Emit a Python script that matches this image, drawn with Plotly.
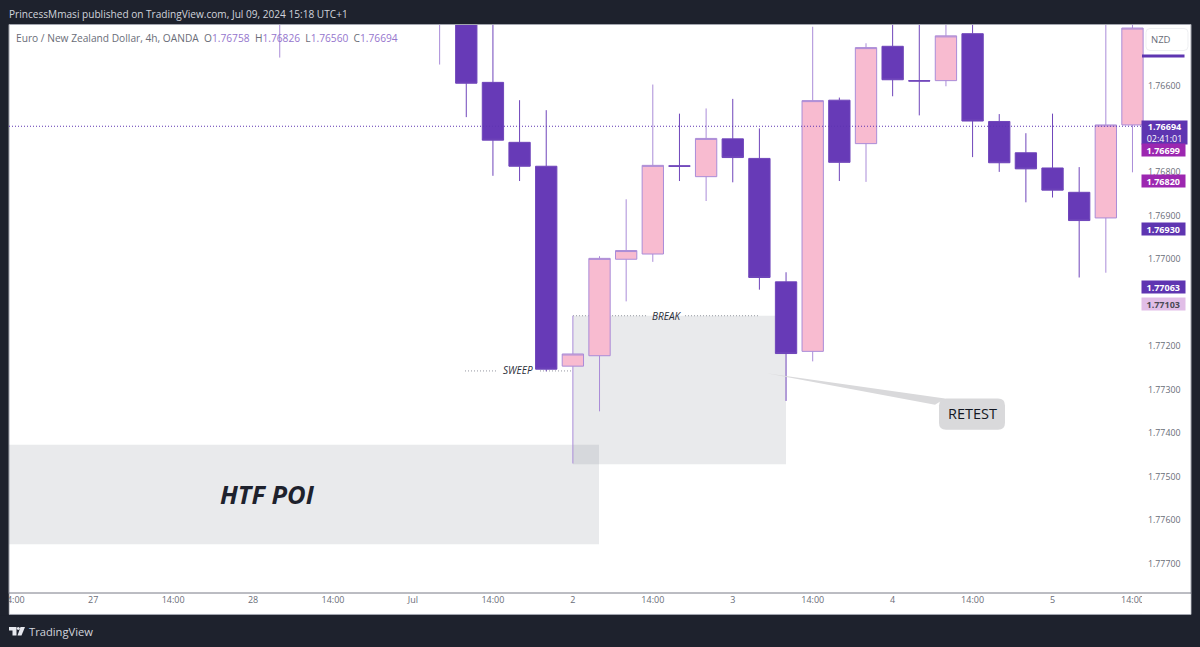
import plotly.graph_objects as go

# candle data (price axis is inverted on the chart)
candle_idx = [-5, 1, 2, 3, 4, 5, 6, 7, 8, 9, 10, 11, 12, 13, 14, 15, 16, 17, 18, 19, 20, 21, 22, 23, 24, 25, 26, 27]
opens = [1.7640, 1.7640, 1.7640, 1.76593, 1.76731, 1.76786, 1.77246, 1.77222, 1.77000, 1.76988, 1.76785,
         1.76810, 1.76723, 1.76768, 1.77052, 1.77212, 1.76634, 1.76734, 1.76510, 1.76589, 1.76589,
         1.76481, 1.76683, 1.76755, 1.76790, 1.76846, 1.76905, 1.76691]
highs = [1.76536, 1.76552, 1.76673, 1.76808, 1.76820, 1.77258, 1.77470, 1.77350, 1.77097, 1.77006, 1.76820,
         1.76866, 1.76823, 1.77070, 1.77326, 1.77235, 1.76820, 1.76822, 1.76625, 1.76669, 1.76602,
         1.76765, 1.76799, 1.76869, 1.76858, 1.77042, 1.77031, 1.76800]
lows = [1.7636, 1.7636, 1.7636, 1.7636, 1.76634, 1.76657, 1.77130, 1.76993, 1.76862, 1.76598, 1.76665,
        1.76653, 1.76631, 1.76699, 1.77030, 1.76465, 1.76628, 1.76503, 1.7636, 1.7636, 1.7636,
        1.7636, 1.76666, 1.76710, 1.76665, 1.76788, 1.7636, 1.7636]
closes = [1.7638, 1.7638, 1.76595, 1.76726, 1.76786, 1.77253, 1.77218, 1.76998, 1.76980, 1.76784, 1.76786,
          1.76722, 1.76766, 1.77042, 1.77217, 1.76635, 1.76777, 1.76513, 1.76587, 1.76590, 1.76486,
          1.76682, 1.76778, 1.76792, 1.76841, 1.76911, 1.76691, 1.76468]

x_tick_pos = [-15, -12, -9, -6, -3, 0, 3, 6, 9, 12, 15, 18, 21, 24, 27]
x_tick_text = ["14:00", "27", "14:00", "28", "14:00", "Jul", "14:00", "2", "14:00", "3", "14:00", "4", "14:00", "5", "14:00"]
y_ticks = [1.766, 1.768, 1.769, 1.770, 1.772, 1.773, 1.774, 1.775, 1.776, 1.777]

last_price = 1.76694
tag_values = [1.76699, 1.76820, 1.76930, 1.77063, 1.77103]
tag_shift = [-21.5, 0, 0, 0, 0]
tag_colors = ["#9C27B0", "#9C27B0", "#5E35B1", "#5E35B1", "#E1BEE7"]
tag_text_colors = ["#FFFFFF", "#FFFFFF", "#FFFFFF", "#FFFFFF", "#4A4A55"]

htf_prices = [1.77427, 1.77656]
retest_prices = [1.77130, 1.77472]
sweep_price = 1.77257
break_price = 1.77130

BG = "#1E222D"
FONT = "Open Sans"
TICK = "#6A6D78"
L, R, T, B = 9, 1145, 24.5, 593.5


def fx(px):
    return (px - L) / (R - L)


def fy(px):
    return 1 - (px - T) / (B - T)


def box(x0, y0, x1, y1, **kw):
    return dict(type="rect", xref="paper", yref="paper", x0=fx(x0), x1=fx(x1), y0=fy(y0), y1=fy(y1), **kw)


def poly(points, color):
    d = "M " + " L ".join(f"{fx(a):.5f} {fy(b):.5f}" for a, b in points) + " Z"
    return dict(type="path", xref="paper", yref="paper", path=d, fillcolor=color, line_width=0, layer="above")


def rounded(x0, y0, x1, y1, r, **kw):
    pts = [
        f"M {fx(x0 + r):.5f} {fy(y0):.5f}", f"L {fx(x1 - r):.5f} {fy(y0):.5f}",
        f"Q {fx(x1):.5f} {fy(y0):.5f} {fx(x1):.5f} {fy(y0 + r):.5f}", f"L {fx(x1):.5f} {fy(y1 - r):.5f}",
        f"Q {fx(x1):.5f} {fy(y1):.5f} {fx(x1 - r):.5f} {fy(y1):.5f}", f"L {fx(x0 + r):.5f} {fy(y1):.5f}",
        f"Q {fx(x0):.5f} {fy(y1):.5f} {fx(x0):.5f} {fy(y1 - r):.5f}", f"L {fx(x0):.5f} {fy(y0 + r):.5f}",
        f"Q {fx(x0):.5f} {fy(y0):.5f} {fx(x0 + r):.5f} {fy(y0):.5f} Z",
    ]
    return dict(type="path", xref="paper", yref="paper", path=" ".join(pts), layer="above", **kw)


def dotted(x0, x1, price):
    return dict(type="line", xref="paper", yref="y", x0=fx(x0), x1=fx(x1), y0=price, y1=price,
                line=dict(color="#9598A1", width=1, dash="1px,2px"), layer="below")


fig = go.Figure()
fig.add_trace(go.Candlestick(
    x=candle_idx, open=opens, high=highs, low=lows, close=closes,
    increasing=dict(fillcolor="#673AB7", line=dict(color="#6F45BA", width=1)),
    decreasing=dict(fillcolor="#F8BBD0", line=dict(color="#AA8CD8", width=1)),
    whiskerwidth=0, showlegend=False, hoverinfo="skip",
))

shapes = [
    # white chart panel
    box(L, 24, 1191, 615, fillcolor="#FFFFFF", line=dict(color="#A3A6AF", width=1), layer="below"),
    # zones
    dict(type="rect", xref="paper", yref="y", x0=0, x1=fx(599), y0=htf_prices[0], y1=htf_prices[1],
         fillcolor="rgba(120,123,134,0.16)", line_width=0, layer="below"),
    dict(type="rect", xref="paper", yref="y", x0=fx(573), x1=fx(786), y0=retest_prices[0], y1=retest_prices[1],
         fillcolor="rgba(120,123,134,0.16)", line_width=0, layer="below"),
    dotted(465, 498, sweep_price), dotted(540, 573, sweep_price),
    dotted(573, 648, break_price), dotted(685, 760, break_price),
    # last price line
    dict(type="line", xref="paper", yref="y", x0=0, x1=fx(1142), y0=last_price, y1=last_price,
         line=dict(color="#5E35B1", width=1, dash="1px,2px"), layer="above"),
    # retest callout
    poly([(766.5, 373.3), (945, 398.7), (935, 405)], "#D9D9DB"),
    rounded(939, 398.7, 1005, 430, 7, fillcolor="#D9D9DB", line_width=0),
    # clip the tick labels at the edges
    box(0, 594, L - 0.5, 616, fillcolor=BG, line_width=0, layer="above"),
    box(1142, 594.5, 1190.5, 614.5, fillcolor="#FFFFFF", line_width=0, layer="above"),
    # axis separator
    dict(type="line", xref="paper", yref="paper", x0=0, x1=fx(1191), y0=fy(593.5), y1=fy(593.5),
         line=dict(color="#787B86", width=1), layer="above"),
    # currency button and the tag hidden behind it
    box(1142, 54, 1184.5, 57, fillcolor="#5E35B1", line_width=0, layer="above"),
    rounded(1146, 28, 1188, 50, 4, fillcolor="#FFFFFF", line=dict(color="#EEEFF2", width=1)),
    # TradingView logo
    poly([(9, 627.5), (16.5, 627.5), (16.5, 636), (12.5, 636), (12.5, 631), (9, 631)], "#E6E8EE"),
    poly([(20.5, 627.5), (25, 627.5), (21.5, 636), (17.5, 636)], "#E6E8EE"),
    dict(type="circle", xref="paper", yref="paper", x0=fx(16.8), x1=fx(19.8), y0=fy(627.5), y1=fy(630.5),
         fillcolor="#E6E8EE", line_width=0, layer="above"),
]


def note(px, py, text, size, color, anchor="left", **kw):
    return dict(xref="paper", yref="paper", x=fx(px), y=fy(py), text=text, showarrow=False,
                xanchor=anchor, yanchor="middle", font=dict(family=FONT, size=size, color=color), **kw)


val = "#9575CD"
gap = "&nbsp;&nbsp;"
legend_text = (
    f"Euro / New Zealand Dollar, 4h, OANDA{gap}"
    f"O<span style='color:{val}'>1.76758</span>{gap}H<span style='color:{val}'>1.76826</span>{gap}"
    f"L<span style='color:{val}'>1.76560</span>{gap}C<span style='color:{val}'>1.76694</span>"
)

annotations = [
    note(7, 13, "PrincessMmasi published on TradingView.com, Jul 09, 2024 15:18 UTC+1", 10.1, "#D1D4DC"),
    note(14, 37.5, legend_text, 10.2, "#6A6D78"),
    note(267, 494, "<b><i>HTF POI</i></b>", 25.5, "#1E222D", anchor="center"),
    note(518, 370.5, "<i>SWEEP</i>", 10, "#2A2E39", anchor="center"),
    note(666, 316, "<i>BREAK</i>", 10, "#2A2E39", anchor="center"),
    note(972, 414, "RETEST", 14.5, "#131722", anchor="center"),
    note(1161, 39, "NZD", 9.5, "#6A6D78", anchor="center"),
    note(27, 632, "TradingView", 11.2, "#D1D4DC"),
    dict(xref="paper", yref="y", x=fx(1164.5), y=last_price, yshift=-6, text="<b>1.76694</b><br>02:41:01",
         showarrow=False, bgcolor="#5E35B1", width=45, height=23, borderpad=0, xanchor="center", yanchor="middle",
         font=dict(family=FONT, size=9, color="#FFFFFF")),
]
for value, shift, color, text_color in zip(tag_values, tag_shift, tag_colors, tag_text_colors):
    annotations.append(dict(
        xref="paper", yref="y", x=fx(1163.2), y=value, yshift=shift, text=f"<b>{value:.5f}</b>",
        showarrow=False, bgcolor=color, width=42.5, height=12, borderpad=0, xanchor="center", yanchor="middle",
        font=dict(family=FONT, size=9, color=text_color),
    ))

fig.update_layout(
    width=1200, height=647, autosize=False,
    margin=dict(l=L, r=1200 - R, t=T, b=647 - B, autoexpand=False),
    paper_bgcolor=BG, plot_bgcolor="rgba(0,0,0,0)",
    boxgap=0.2, boxgroupgap=0, showlegend=False, hovermode=False,
    shapes=shapes, annotations=annotations,
    xaxis=dict(
        range=[-15.16, 27.47], rangeslider=dict(visible=False), showgrid=False, zeroline=False,
        tickmode="array", tickvals=x_tick_pos, ticktext=x_tick_text, ticks="", showline=False,
        tickfont=dict(family=FONT, size=9, color=TICK),
    ),
    yaxis=dict(
        range=[1.77768, 1.76461], side="right", showgrid=False, zeroline=False,
        tickmode="array", tickvals=y_ticks, ticktext=[f"{v:.5f}" for v in y_ticks], ticks="", showline=False,
        tickfont=dict(family=FONT, size=8.8, color=TICK), ticklabelstandoff=2,
    ),
)

fig.write_html("out.html", config=dict(displayModeBar=False), post_script="document.body.style.margin='0';")
